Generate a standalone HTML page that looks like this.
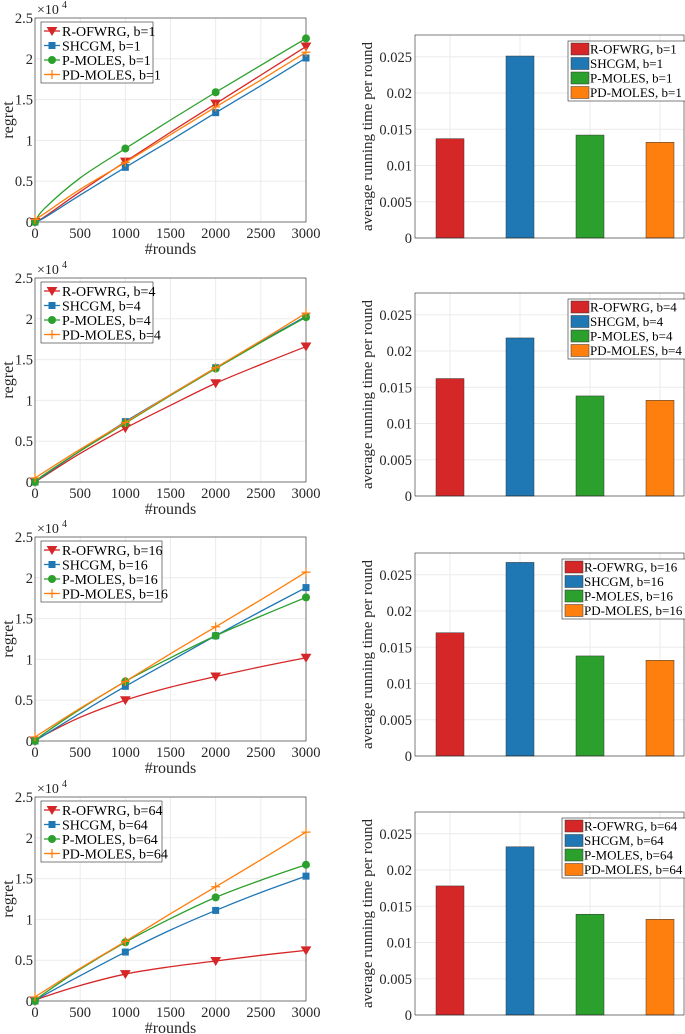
<!DOCTYPE html>
<html><head><meta charset="utf-8"><style>
body{margin:0;background:#fff;}
svg{display:block;font-family:"Liberation Serif",serif;}
</style></head><body>
<svg id="c" width="685" height="1034" viewBox="0 0 685 1034"></svg>
<script>
const roundsX=[0,100,500,1000,1500,2000,2500,3000];
const batchSizes=[1,4,16,64];
const methodNames=["R-OFWRG","SHCGM","P-MOLES","PD-MOLES"];
const regretR=[[0,0.06,0.37,0.74,1.10,1.45,1.80,2.15],[0,0.07,0.35,0.66,0.94,1.21,1.44,1.66],[0,0.07,0.29,0.50,0.66,0.79,0.91,1.02],[0,0.05,0.19,0.33,0.42,0.49,0.56,0.62]];
const regretS=[[0,0.05,0.33,0.67,1.00,1.34,1.67,2.01],[0,0.08,0.38,0.74,1.07,1.40,1.72,2.03],[0,0.07,0.34,0.67,0.98,1.29,1.59,1.88],[0,0.07,0.31,0.60,0.87,1.11,1.33,1.53]];
const regretP=[[0,0.16,0.54,0.90,1.25,1.59,1.92,2.25],[0,0.09,0.38,0.72,1.06,1.39,1.71,2.02],[0,0.09,0.39,0.73,1.02,1.29,1.53,1.76],[0,0.09,0.39,0.72,1.01,1.27,1.48,1.67]];
const regretPD=[[0.03,0.1,0.40,0.73,1.07,1.41,1.74,2.08],[0.05,0.12,0.40,0.73,1.07,1.40,1.73,2.07],[0.05,0.12,0.40,0.73,1.07,1.40,1.73,2.07],[0.05,0.12,0.40,0.73,1.07,1.40,1.73,2.07]];
const timeValues=[[0.0137,0.0251,0.0142,0.0132],[0.0162,0.0218,0.0138,0.0132],[0.0170,0.0267,0.0138,0.0132],[0.0178,0.0232,0.0139,0.0132]];
const xTicks=[0,500,1000,1500,2000,2500,3000];
const yTicks=[0,0.5,1,1.5,2,2.5];
const yTickLabels=["0","0.5","1","1.5","2","2.5"];
const tTicks=[0,0.005,0.01,0.015,0.02,0.025];
const tTickLabels=["0","0.005","0.01","0.015","0.02","0.025"];

const colors=["#d62728","#1f77b4","#2ca02c","#ff7f0e"];
const svg=document.getElementById('c');
const NS="http://www.w3.org/2000/svg";
function mk(tag,attrs,parent,name){const e=document.createElementNS(NS,tag);for(const k in attrs)e.setAttribute(k,attrs[k]);


(parent||svg).appendChild(e);return e;}
function txt(s,attrs,parent,name){const e=mk('text',attrs,parent,name);e.textContent=s;return e;}
function smooth(pts){let d=`M${pts[0][0]},${pts[0][1]}`;
 for(let i=0;i<pts.length-1;i++){const p0=pts[Math.max(0,i-1)],p1=pts[i],p2=pts[i+1],p3=pts[Math.min(pts.length-1,i+2)];
  const c1x=p1[0]+(p2[0]-p0[0])/6,c1y=p1[1]+(p2[1]-p0[1])/6,c2x=p2[0]-(p3[0]-p1[0])/6,c2y=p2[1]-(p3[1]-p1[1])/6;
  d+=` C${c1x},${c1y} ${c2x},${c2y} ${p2[0]},${p2[1]}`;}
 return d;}
function marker(g,k,x,y,c){
 if(k===0) mk('polygon',{points:`${x-4.5},${y-3.5} ${x+4.5},${y-3.5} ${x},${y+4}`,fill:c,stroke:c},g,'marker-triangle');
 else if(k===1) mk('rect',{x:x-3.5,y:y-3.5,width:7,height:7,fill:c},g,'marker-square');
 else if(k===2) mk('circle',{cx:x,cy:y,r:4,fill:c},g,'marker-circle');
 else {mk('path',{d:`M${x-4.5},${y}H${x+4.5}M${x},${y-4.5}V${y+4.5}`,stroke:c,'stroke-width':1.2},g,'marker-plus');}
}
const lineTops=[18,278,537,797];
const barTops=[35,293,553,812];
const series=[regretR,regretS,regretP,regretPD];
for(let r=0;r<4;r++){
 const g=mk('g',{},svg,'regret-chart-b'+batchSizes[r]);
 const L=35,R=306,T=lineTops[r],B=T+204;
 const sx=v=>L+(v/3000)*(R-L), sy=v=>B-(v/2.5)*(B-T);
 mk('rect',{x:L,y:T,width:R-L,height:B-T,fill:'#fff'},g,'plot-area');
 xTicks.forEach(t=>{mk('line',{x1:sx(t),x2:sx(t),y1:T,y2:B,stroke:'#ebebeb'},g,'x-gridline');
  txt(String(t),{x:sx(t),y:B+16,'text-anchor':'middle','font-size':14.5,fill:'#262626'},g,'x-tick-label');});
 yTicks.forEach((t,i)=>{mk('line',{x1:L,x2:R,y1:sy(t),y2:sy(t),stroke:'#ebebeb'},g,'y-gridline');
  txt(yTickLabels[i],{x:L-2,y:sy(t)+5,'text-anchor':'end','font-size':14.5,fill:'#262626'},g,'y-tick-label');});
 mk('rect',{x:L,y:T,width:R-L,height:B-T,fill:'none',stroke:'#262626','stroke-width':0.6},g,'axes-box');
 txt('×10',{x:37,y:T-4,'font-size':14,fill:'#262626'},g,'exponent-label');
 txt('4',{x:62,y:T-10,'font-size':10,fill:'#262626'},g,'exponent-power');
 txt('regret',{transform:`translate(13,${(T+B)/2}) rotate(-90)`,'text-anchor':'middle','font-size':16,fill:'#262626'},g,'y-axis-title');
 txt('#rounds',{x:(L+R)/2,y:B+32,'text-anchor':'middle','font-size':16,fill:'#262626'},g,'x-axis-title');
 series.forEach((s,k)=>{
  const vals=s[r];
  mk('path',{d:smooth(vals.map((v,i)=>[sx(roundsX[i]),sy(v)])),fill:'none',stroke:colors[k],'stroke-width':1.3},g,'line-'+methodNames[k].toLowerCase());
  vals.forEach((v,i)=>{if(roundsX[i]%1000===0)marker(g,k,sx(roundsX[i]),sy(v),colors[k]);});
 });
 const lw=r<2?112:121, ly=T+4;
 mk('rect',{x:41,y:ly,width:lw,height:61,fill:'#fff',stroke:'#262626','stroke-width':0.6},g,'legend-box');
 methodNames.forEach((n,k)=>{const yy=ly+9+k*14.5;
  mk('line',{x1:44,x2:60,y1:yy,y2:yy,stroke:colors[k],'stroke-width':1.3},g,'legend-line');
  marker(g,k,52,yy,colors[k]);
  txt(n+', b='+batchSizes[r],{x:62,y:yy+5,'font-size':14,fill:'#000'},g,'legend-entry');});

 const gb=mk('g',{},svg,'time-chart-b'+batchSizes[r]);
 const BL=415,BR=684,BT=barTops[r],BB=BT+203;
 const bx=i=>450+70*i, by=v=>BB-(v/0.028)*(BB-BT);
 mk('rect',{x:BL,y:BT,width:BR-BL,height:BB-BT,fill:'#fff'},gb,'plot-area');
 [0,1,2,3].forEach(i=>mk('line',{x1:bx(i),x2:bx(i),y1:BT,y2:BB,stroke:'#ebebeb'},gb,'x-gridline'));
 tTicks.forEach((t,i)=>{mk('line',{x1:BL,x2:BR,y1:by(t),y2:by(t),stroke:'#ebebeb'},gb,'y-gridline');
  txt(tTickLabels[i],{x:BL-3,y:by(t)+5,'text-anchor':'end','font-size':14.5,fill:'#262626'},gb,'y-tick-label');});
 timeValues[r].forEach((v,i)=>{mk('rect',{x:bx(i)-14,y:by(v),width:28,height:BB-by(v),fill:colors[i],stroke:'#333','stroke-width':0.5},gb,'bar-'+methodNames[i].toLowerCase());});
 mk('rect',{x:BL,y:BT,width:BR-BL,height:BB-BT,fill:'none',stroke:'#262626','stroke-width':0.6},gb,'axes-box');
 txt('average running time per round',{transform:`translate(372,${(BT+BB)/2}) rotate(-90)`,'text-anchor':'middle','font-size':15,fill:'#262626'},gb,'y-axis-title');
 const lx=r<2?568:562, lyy=BT+6;
 mk('rect',{x:lx,y:lyy,width:684-lx+5,height:60,fill:'#fff',stroke:'#262626','stroke-width':0.6},gb,'legend-box');
 methodNames.forEach((n,k)=>{const yy=lyy+8+k*14.5;
  mk('rect',{x:lx+3,y:yy-6,width:18,height:12,fill:colors[k],stroke:'#333','stroke-width':0.5},gb,'legend-swatch');
  txt(n+', b='+batchSizes[r],{x:lx+22,y:yy+4.5,'font-size':13,fill:'#000'},gb,'legend-entry');});
}
</script>
</body></html>
